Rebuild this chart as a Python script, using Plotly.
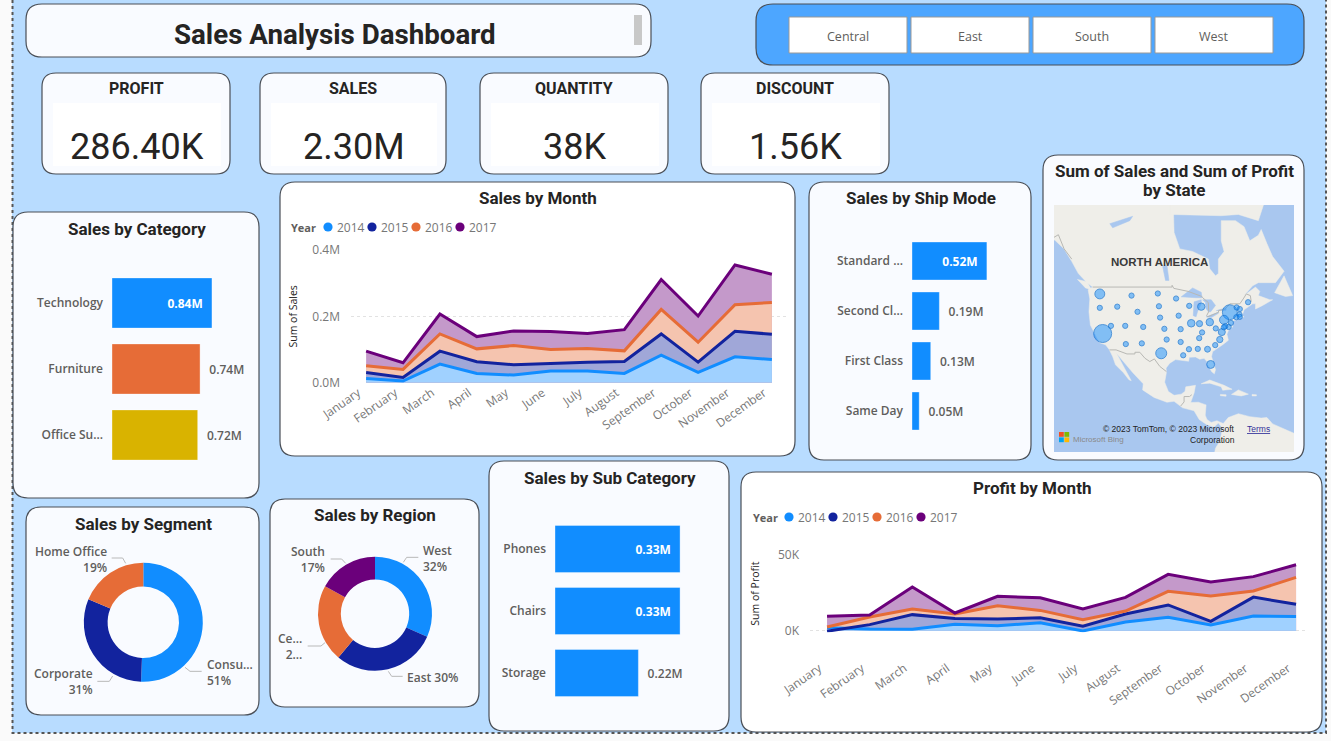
import math
import plotly.graph_objects as go

W, H = 1331, 741

# ---------- data ----------
months = ["January", "February", "March", "April", "May", "June", "July", "August",
          "September", "October", "November", "December"]
years = ["2014", "2015", "2016", "2017"]

sales_2014 = [0.013, 0.005, 0.056, 0.028, 0.023, 0.035, 0.035, 0.028, 0.083, 0.031, 0.078, 0.070]
sales_2015 = [0.031, 0.016, 0.095, 0.063, 0.054, 0.059, 0.062, 0.064, 0.147, 0.062, 0.155, 0.146]
sales_2016 = [0.051, 0.040, 0.147, 0.102, 0.112, 0.100, 0.103, 0.096, 0.221, 0.122, 0.235, 0.242]
sales_2017 = [0.095, 0.060, 0.207, 0.139, 0.156, 0.154, 0.148, 0.160, 0.311, 0.201, 0.355, 0.327]

profit_2014 = [2.0, 1.1, 0.9, 4.2, 3.3, 5.3, -0.2, 5.7, 8.8, 3.7, 9.7, 9.3]
profit_2015 = [-0.4, 4.0, 10.6, 8.1, 7.7, 8.6, 2.9, 11.0, 17.0, 6.2, 22.2, 17.4]
profit_2016 = [2.4, 9.0, 14.3, 11.0, 16.5, 13.4, 7.3, 13.0, 26.0, 22.9, 26.2, 35.2]
profit_2017 = [9.5, 10.4, 28.9, 11.7, 22.7, 21.8, 14.3, 22.0, 37.2, 32.2, 35.7, 43.6]

category_names = ["Technology", "Furniture", "Office Su..."]
category_sales = [0.84, 0.74, 0.72]
ship_names = ["Standard ...", "Second Cl...", "First Class", "Same Day"]
ship_sales = [0.52, 0.19, 0.13, 0.05]
subcat_names = ["Phones", "Chairs", "Storage"]
subcat_sales = [0.33, 0.33, 0.22]

segment_names = ["Consumer", "Corporate", "Home Office"]
segment_sales = [50.6, 30.7, 18.7]
region_names = ["West", "East", "Central", "South"]
region_sales = [31.6, 29.5, 21.9, 17.0]

kpi_names = ["PROFIT", "SALES", "QUANTITY", "DISCOUNT"]
kpi_values = ["286.40K", "2.30M", "38K", "1.56K"]
slicer_items = ["Central", "East", "South", "West"]

state_names = ["CA", "NY", "TX", "WA", "PA", "FL", "IL", "OH", "MI", "VA", "NC", "IN", "GA", "KY", "NJ",
               "AZ", "WI", "CO", "TN", "MN", "DE", "MA", "AL", "AR", "OK", "LA", "MO", "MD", "OR", "NV",
               "MS", "CT", "UT", "RI", "SC", "NE", "NM", "IA", "NH", "KS", "ID", "MT", "SD", "VT", "DC",
               "ME", "ND", "WV", "WY"]
state_lon = [-119.5, -75.0, -99.0, -120.5, -77.0, -81.7, -88.5, -82.0, -85.0, -77.8, -78.5, -85.6, -82.8, -84.7, -74.6,
             -111.4, -89.2, -105.3, -85.7, -93.8, -75.4, -71.6, -86.2, -92.2, -97.1, -91.3, -92.2, -76.6, -120.5, -116.6,
             -89.3, -72.7, -111.6, -71.5, -80.1, -99.4, -105.8, -92.9, -71.5, -97.9, -114.4, -109.4, -99.8, -72.6, -77.1,
             -68.6, -100.2, -79.9, -107.3]
state_lat = [37.2, 42.9, 31.5, 47.4, 40.9, 28.1, 40.0, 40.3, 44.3, 37.6, 35.5, 39.9, 32.7, 37.5, 40.1,
             34.2, 44.5, 39.0, 35.9, 46.3, 39.0, 42.3, 32.8, 34.8, 35.5, 30.9, 38.4, 39.2, 44.0, 39.3,
             32.7, 41.6, 39.3, 41.7, 33.9, 41.5, 34.4, 42.0, 43.7, 38.5, 44.3, 47.0, 44.4, 44.1, 38.9,
             45.4, 47.5, 38.6, 43.0]
state_sales = [457, 310, 170, 138, 116, 89, 80, 78, 76, 70, 55, 53, 49, 37, 35,
               35, 32, 32, 30, 30, 27, 28, 19, 12, 19, 9, 22, 24, 17, 16,
               10, 13, 11, 22, 8, 8, 5, 4.5, 7, 3, 4, 5.6, 1.3, 9, 2.9,
               1.3, 0.9, 1.2, 1.6]

# base-map geography (lon, lat)
mainland_lon = [-165, -140, -125, -110, -95, -94.5, -92.5, -88, -82.5, -82, -80, -79, -79, -77, -78, -78, -73, -70, -68, -65, -64,
                -62, -60, -56, -59, -65, -67, -70, -66, -64.5, -65, -61, -60, -63.5, -66, -66, -67, -70, -70.7, -70, -74, -74,
                -75.5, -76, -75.5, -77.5, -79, -81, -81.4, -80.5, -80, -80.4, -81.3, -82.7, -83, -84, -85.5, -87, -89.2, -89.4,
                -91, -94, -96, -97.3, -97.2, -97.8, -96.5, -94.5, -92, -90.7, -90.4, -87, -87.5, -88.2, -88.7, -86, -83.3, -83.6,
                -83, -81.5, -79.5, -77.3, -75.5, -72, -68, -64, -62, -60, -52, -50, -50, -81, -80, -78.5, -77.5, -79, -80.5,
                -83, -85.7, -87.5, -91.5, -94.5, -97, -101.5, -105.5, -105.3, -109, -112.7, -114.7, -112.5, -109.5, -110.3,
                -112.2, -115, -116, -117.2, -118.5, -120.6, -122, -123.8, -124.3, -124, -124.6, -123, -125, -128, -130.3, -133,
                -136, -140, -146, -151, -165]
mainland_lat = [70, 70, 70, 68, 68, 60, 57, 56.5, 55, 53, 51.5, 52, 55, 56.5, 58.5, 62, 62, 61, 58.5, 59.5, 60.5,
                58, 55.5, 52.5, 50, 50, 49.3, 47, 49, 48, 47, 46, 46, 44.6, 43.7, 45, 45, 43.5, 42, 41.7, 40.6, 39,
                38, 37, 35.3, 34, 33.2, 32, 30.5, 28, 26.5, 25.2, 25.8, 28, 29, 30, 29.7, 30.4, 30.3, 29.1,
                29.3, 29.6, 28.5, 27, 25.5, 22.5, 19.5, 18.2, 18.6, 19.5, 21, 21.5, 19, 17.5, 15.8, 15.9, 15, 11.5,
                10, 9, 9.6, 8.6, 10.7, 12, 11, 10.5, 10.7, 8.5, 5, 0, -5, -5, 0, 2.5, 7, 8.8, 7.4,
                8.2, 10, 13, 14, 16.2, 15.9, 17.5, 20, 22, 25.6, 29.5, 31.6, 28, 23, 23.3,
                25.5, 28, 30.5, 32.6, 34, 34.6, 36.8, 39.5, 43, 46.2, 48.4, 49, 50, 52, 54.5, 57,
                58.5, 60, 61, 60, 62]
islands = {
    "Baffin": ([-96, -78, -72, -65, -62, -66, -75, -96], [63, 62.8, 63, 62, 66, 70, 72, 72]),
    "Newfoundland": ([-59.3, -56, -53, -55.5], [47.7, 51.5, 47, 46.8]),
    "Cuba": ([-85, -82, -77, -74.2, -77.5, -78, -82], [22, 23.2, 21.5, 20.2, 19.9, 21, 22.2]),
    "Hispaniola": ([-74.4, -72, -68.5, -71], [18.5, 20, 18.6, 18]),
    "Jamaica": ([-78.3, -76.3, -76.3, -78.3], [18.5, 18.4, 17.9, 18.1]),
    "Puerto Rico": ([-67.2, -65.7, -65.7, -67.2], [18.5, 18.4, 18, 18]),
    "Vancouver": ([-128.3, -125, -123.4, -125.5], [50.7, 50.2, 48.4, 48.8]),
}
lakes = {
    "Superior": ([-92, -88, -85, -84.7, -87], [46.7, 48.8, 47.8, 46.5, 46.5]),
    "Michigan": ([-87.8, -87.5, -85, -85, -86.3, -86.8], [42, 45.5, 46, 45, 43, 41.7]),
    "Huron": ([-84.5, -81.5, -80, -81.7, -82.5, -83.5, -83.5], [46, 46, 44.6, 43, 43, 44, 45.3]),
    "Erie": ([-83.3, -79, -79, -81.5], [41.7, 42.9, 42.6, 41.5]),
    "Ontario": ([-79.7, -76.3, -76.3, -78], [43.3, 44, 43.4, 43.3]),
    "Winnipeg": ([-98.5, -97, -96.3, -97.5], [53.5, 53.8, 50.5, 50.5]),
    "Slave": ([-117, -109, -110, -116], [61.5, 62.7, 62, 60.8]),
}
borders = {
    "US-Canada": ([-123, -95.2, -95.2, -94.6, -89.6, -84.8, -84.5, -82.5, -82.4, -83.1, -82.7, -78.9, -79, -76.8, -75, -71.5, -70.3, -69.2, -67.8, -67.5],
                  [49, 49, 49.4, 48.7, 48, 46.8, 46.5, 45.3, 43, 42, 41.7, 42.9, 43.3, 43.6, 45, 45, 46.2, 47.4, 47, 45.5]),
    "US-Mexico": ([-117.1, -114.8, -111, -108.2, -108.2, -106.5, -104.7, -103, -101.4, -99.5, -97.2],
                  [32.5, 32.5, 31.3, 31.3, 31.8, 31.8, 30, 29, 29.8, 27.5, 25.9]),
    "Alaska": ([-137, -135, -133, -130.3], [59, 59.6, 57, 55]),
    "Mexico-Guatemala": ([-92.2, -91, -91, -89.1, -88.3], [14.6, 16, 17.8, 17.8, 18.4]),
}

# ---------- styles ----------
BLUE, NAVY, ORANGE, PURPLE, GOLD = "#118DFF", "#12239E", "#E66C37", "#6B007B", "#D9B300"
TINTS = ["#A0D1FF", "#A0A7D8", "#F5C4AF", "#C499CA"]
SERIES = [BLUE, NAVY, ORANGE, PURPLE]
BG, CARD, BORDER = "#B8DCFF", "#F9FBFF", "#4A4F57"
TITLE_FONT = "Roboto"
BODY_FONT = "Open Sans"
NUM_FONT = "Roboto"
INK, GREY = "#252423", "#605E5C"


def fx(px):
    return px / W


def fy(py):
    return 1 - py / H


shapes, annotations, traces = [], [], []
layout_axes = {}


def card(x0, y0, x1, y1, fill=CARD, line=BORDER, r=15, width=1.2):
    p = (f"M{fx(x0 + r)},{fy(y0)} L{fx(x1 - r)},{fy(y0)} Q{fx(x1)},{fy(y0)} {fx(x1)},{fy(y0 + r)} "
         f"L{fx(x1)},{fy(y1 - r)} Q{fx(x1)},{fy(y1)} {fx(x1 - r)},{fy(y1)} L{fx(x0 + r)},{fy(y1)} "
         f"Q{fx(x0)},{fy(y1)} {fx(x0)},{fy(y1 - r)} L{fx(x0)},{fy(y0 + r)} Q{fx(x0)},{fy(y0)} {fx(x0 + r)},{fy(y0)} Z")
    shapes.append(dict(type="path", path=p, xref="paper", yref="paper", fillcolor=fill,
                       line=dict(color=line, width=width), layer="below"))


def rect(x0, y0, x1, y1, fill, line=None, width=0, layer="below"):
    shapes.append(dict(type="rect", xref="paper", yref="paper", x0=fx(x0), x1=fx(x1), y0=fy(y0), y1=fy(y1),
                       fillcolor=fill, line=dict(color=line or fill, width=width), layer=layer))


def text(s, x, y, size=12, color=GREY, anchor="center", family=BODY_FONT, weight=400, angle=0, align=None):
    annotations.append(dict(text=s, x=fx(x), y=fy(y), xref="paper", yref="paper", showarrow=False,
                            xanchor=anchor, yanchor="middle", align=align or anchor, textangle=angle,
                            font=dict(family=family, size=size, color=color, weight=weight)))


def title(s, x, y, size=17):
    text(s, x, y, size=size, color=INK, family=TITLE_FONT, weight=700)


def leader(points):
    p = "M" + " L".join(f"{fx(20 + a / 3)},{fy(500 + b / 3)}" for a, b in points)
    shapes.append(dict(type="path", path=p, xref="paper", yref="paper", line=dict(color="#B9B9B9", width=1)))


def axes(n, x0, x1, y0, y1):
    sfx = "" if n == 1 else str(n)
    return (f"xaxis{sfx}", f"yaxis{sfx}", f"x{sfx}", f"y{sfx}",
            [fx(x0), fx(x1)], [fy(y1), fy(y0)])


def bar_chart(n, names, values, colors, x0, x1, y0, y1, per_m, outside_from, font=12):
    xk, yk, xr, yr, dx, dy = axes(n, x0, x1, y0, y1)
    positions = ["inside" if v >= outside_from else "outside" for v in values]
    labels = [f"{v:.2f}M\u00a0\u00a0" if v >= outside_from else f"\u00a0\u00a0{v:.2f}M" for v in values]
    traces.append(go.Bar(y=names, x=values, orientation="h", xaxis=xr, yaxis=yr, width=0.76,
                         marker=dict(color=colors, line=dict(color="rgba(255,255,255,0.35)", width=1)),
                         text=labels, textposition=positions, insidetextanchor="end",
                         textangle=0, cliponaxis=False, constraintext="none",
                         insidetextfont=dict(family=BODY_FONT, size=font, color="white", weight=700),
                         outsidetextfont=dict(family=BODY_FONT, size=font, color=GREY, weight=600),
                         hoverinfo="skip"))
    layout_axes[xk] = dict(domain=dx, range=[0, (x1 - x0) / per_m], visible=False, anchor=yr)
    layout_axes[yk] = dict(domain=dy, type="category", categoryorder="array", categoryarray=names,
                           range=[len(names) - 0.5, -0.5], anchor=xr, showgrid=False, zeroline=False, showline=False,
                           ticks="", ticklabelstandoff=8,
                           tickfont=dict(family=BODY_FONT, size=font, color=GREY, weight=600))


def area_chart(n, series, x0, x1, y0, y1, xr_range, yrange, tickvals, ticktext, ytitle, standoff, x_drop):
    xk, yk, xr, yr, dx, dy = axes(n, x0, x1, y0, y1)
    for i in range(3, -1, -1):
        traces.append(go.Scatter(x=months, y=series[i], xaxis=xr, yaxis=yr, mode="none", fill="tozeroy",
                                 fillcolor=TINTS[i], hoverinfo="skip", showlegend=False))
    for i in range(4):
        traces.append(go.Scatter(x=months, y=series[i], xaxis=xr, yaxis=yr, mode="lines",
                                 line=dict(color=SERIES[i], width=3), name=years[i], showlegend=False))
    layout_axes[xk] = dict(domain=dx, type="category", categoryorder="array", categoryarray=months, range=xr_range,
                           anchor=yr, showgrid=False, zeroline=False, showline=False, tickangle=-35, ticks="",
                           ticklabelstandoff=x_drop, ticklabelshift=-8,
                           tickfont=dict(family=BODY_FONT, size=12, color="#777777"), automargin=False)
    layout_axes[yk] = dict(domain=dy, range=yrange, anchor=xr, tickvals=tickvals, ticktext=ticktext, zeroline=False,
                           showgrid=True, gridcolor="#E2E2E2", griddash="dot", gridwidth=1, showline=False, ticks="",
                           ticklabelstandoff=10,
                           tickfont=dict(family=BODY_FONT, size=12, color="#777777"), automargin=False,
                           title=dict(text=ytitle, standoff=standoff,
                                      font=dict(family=BODY_FONT, size=10.5, color=INK)))


def legend(xs_dot, xs_text, x_year, y):
    text("Year", x_year, y, size=11, color=GREY, anchor="left", weight=700)
    for d, t, c, yr in zip(xs_dot, xs_text, SERIES, years):
        shapes.append(dict(type="circle", xref="paper", yref="paper", x0=fx(d - 4.6), x1=fx(d + 4.6),
                           y0=fy(y + 4.6), y1=fy(y - 4.6), fillcolor=c, line=dict(width=0)))
        text(yr, t, y, size=12, color="#777777", anchor="left")


def merc(lat):
    return math.degrees(math.log(math.tan(math.radians(45 + lat / 2))))


# ---------- page ----------
rect(12, 0, 1326, 733, BG)
shapes.append(dict(type="path", xref="paper", yref="paper",
                   path=f"M{fx(12.5)},{fy(0)} L{fx(12.5)},{fy(733)} L{fx(1326)},{fy(733)} L{fx(1326)},{fy(0)}",
                   line=dict(color="#555555", width=2, dash="dot"), layer="below"))

# title
card(26, 4, 651, 57, r=16)
rect(634, 15, 642, 45, "#C8C8C8")
text("Sales Analysis Dashboard", 335, 34.5, size=27.7, color=INK, family=TITLE_FONT, weight=700)

# slicer
card(756, 4, 1304, 65, fill="#4DA6FF", r=17)
for name, bx in zip(slicer_items, [789, 911, 1033, 1155]):
    rect(bx, 17, bx + 118, 53, "white", line="#999999", width=1)
    text(name, bx + 59, 36, size=12.5, color=GREY, family=BODY_FONT)

# KPIs
for name, val, (a, b) in zip(kpi_names, kpi_values, [(42, 230), (260, 446), (480, 668), (701, 889)]):
    card(a, 73, b, 174, r=14)
    rect(a + 11, 103, b - 9, 166, "white")
    text(name, (a + b) / 2, 88, size=16, color=INK, family=TITLE_FONT, weight=700)
    text(val, (a + b) / 2 + 0.5, 146.5, size=36, color=INK, family=NUM_FONT)

# cards
card(13, 212, 259, 498)
card(280, 182, 795, 456, fill="white")
card(809, 182, 1031, 460)
card(1043, 155, 1304, 460)
card(26, 507, 259, 715)
card(270, 499, 479, 707)
card(489, 461, 729, 731)
card(741, 472, 1322, 732, fill="white")

title("Sales by Category", 137, 229)
title("Sales by Month", 538, 198)
title("Sales by Ship Mode", 921, 198)
title("Sum of Sales and Sum of Profit", 1174.5, 171)
title("by State", 1174.5, 190.5)
title("Sales by Segment", 143, 524)
title("Sales by Region", 375, 515)
title("Sales by Sub Category", 610, 478)
title("Profit by Month", 1032, 488)

# bars
bar_chart(1, category_names, category_sales, [BLUE, ORANGE, GOLD], 112, 252, 270, 468, 119, 0.8)
bar_chart(2, ship_names, ship_sales, [BLUE] * 4, 912, 1020, 236, 436, 144, 0.5)
bar_chart(3, subcat_names, subcat_sales, [BLUE] * 3, 555, 715, 518, 704, 379, 0.3)

# areas
legend([328, 372, 416, 460], [335, 379, 423, 467], 289, 227)
area_chart(4, [sales_2014, sales_2015, sales_2016, sales_2017], 351, 787, 250, 382.7, [-0.41, 11.41], [0, 0.4],
           [0, 0.2, 0.4], ["0.0M", "0.2M", "0.4M"], "Sum of Sales", 12, 0)
legend([789, 833, 877, 921], [796, 840, 884, 928], 751, 517)
area_chart(5, [profit_2014, profit_2015, profit_2016, profit_2017], 810, 1308, 555, 632.2, [-0.40, 11.28], [-1, 50],
           [0, 50], ["0K", "50K"], "Sum of Profit", 16, 26)

# donuts
traces.append(go.Pie(labels=segment_names, values=segment_sales, hole=0.6, sort=False, direction="clockwise",
                     rotation=0, textinfo="none", marker=dict(colors=[BLUE, NAVY, ORANGE]), showlegend=False,
                     domain=dict(x=[fx(143.3 - 59.5), fx(143.3 + 59.5)], y=[fy(622.3 + 59.5), fy(622.3 - 59.5)])))
traces.append(go.Pie(labels=region_names, values=region_sales, hole=0.6, sort=False, direction="clockwise",
                     rotation=0, textinfo="none", marker=dict(colors=[BLUE, NAVY, ORANGE, PURPLE]), showlegend=False,
                     domain=dict(x=[fx(375 - 57), fx(375 + 57)], y=[fy(613.7 + 57), fy(613.7 - 57)])))
S = dict(size=12, weight=600)
text("Home Office<br>19%", 109, 559, anchor="right", **S)
text("Corporate<br>31%", 95, 681, anchor="right", **S)
text("Consu...<br>51%", 205, 672, anchor="left", **S)
text("South<br>17%", 327, 559.5, anchor="right", **S)
text("West<br>32%", 421, 558, anchor="left", **S)
text("Ce...<br>2...", 304, 646.5, anchor="right", **S)
text("East 30%", 405, 677, anchor="left", **S)
leader([(275, 174), (308, 174), (317, 190)])
leader([(232, 544), (268, 544), (278, 528)])
leader([(495, 502), (510, 514), (545, 514)])
leader([(932, 177), (965, 177), (977, 190)])
leader([(1195, 172), (1160, 172), (1150, 187)])
leader([(863, 438), (903, 438), (915, 428)])
leader([(1105, 514), (1115, 529), (1148, 529)])

# map
MX0, MX1, MY0, MY1 = 1054, 1294, 205, 452
rect(MX0, MY0, MX1, MY1, "#A9C7EF")
xk, yk, xr, yr, dx, dy = axes(6, MX0, MX1, MY0, MY1)
scale = 8.57  # zoomed px per Mercator degree
lon0 = -119.5 + (27 - 173) / scale
lon1 = -119.5 + (747 - 173) / scale
m0 = merc(37.2) + (535 - 150) / scale
m1 = merc(37.2) + (535 - 890) / scale
LAND = "#EFEEE9"


def poly(lons, lats, fill, line=None):
    traces.append(go.Scatter(x=lons + lons[:1], y=[merc(v) for v in lats + lats[:1]], xaxis=xr, yaxis=yr, mode="lines",
                             fill="toself", fillcolor=fill, line=dict(color=line or fill, width=0.5),
                             hoverinfo="skip", showlegend=False))


poly(mainland_lon, mainland_lat, LAND)
for lo, la in islands.values():
    poly(lo, la, LAND)
for lo, la in lakes.values():
    poly(lo, la, "#A9C7EF")
for lo, la in borders.values():
    traces.append(go.Scatter(x=lo, y=[merc(v) for v in la], xaxis=xr, yaxis=yr, mode="lines",
                             line=dict(color="#B8B8B4", width=1), hoverinfo="skip", showlegend=False))
traces.append(go.Scatter(x=state_lon, y=[merc(v) for v in state_lat], xaxis=xr, yaxis=yr, mode="markers", text=state_names,
                         marker=dict(size=state_sales, sizemode="area", sizeref=457 / 2 / 9 ** 2, sizemin=2.6,
                                     color="rgba(17,141,255,0.7)", line=dict(color="#0E6FD0", width=1)),
                         showlegend=False, hovertemplate="%{text}<extra></extra>"))
layout_axes[xk] = dict(domain=dx, range=[lon0, lon1], visible=False, anchor=yr)
layout_axes[yk] = dict(domain=dy, range=[m1, m0], visible=False, anchor=xr)
text("NORTH AMERICA", 1159, 261.5, size=11.5, color="#3A3A3A", family="Liberation Sans", weight=700)
text("© 2023 TomTom, © 2023 Microsoft", 1237, 429, size=8.5, color="#222222", family="Liberation Sans", anchor="right")
text("Corporation", 1237, 440, size=8.5, color="#222222", family="Liberation Sans", anchor="right")
text("<u>Terms</u>", 1245, 429, size=8.5, color="#33339A", family="Liberation Sans", anchor="left")
text("Microsoft Bing", 1071, 439, size=8, color="#8A8A8A", family="Liberation Sans", anchor="left")
for (a, b), c in zip([(1059, 432), (1064.4, 432), (1059, 437.4), (1064.4, 437.4)], ["#F25022", "#7FBA00", "#00A4EF", "#FFB900"]):
    rect(a, b, a + 4.8, b + 4.8, c, layer="above")

fig = go.Figure(traces)
fig.update_layout(width=W, height=H, margin=dict(l=0, r=0, t=0, b=0), paper_bgcolor="#FAFAFA", plot_bgcolor="rgba(0,0,0,0)",
                  showlegend=False, shapes=shapes, annotations=annotations, **layout_axes)
fig.write_html("out.html", config=dict(displayModeBar=False),
               post_script="document.body.style.margin='0';document.body.style.overflow='hidden';")
